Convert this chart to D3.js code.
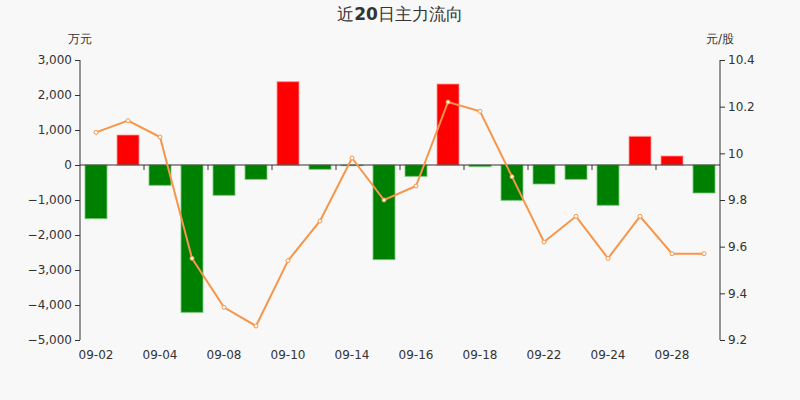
<!DOCTYPE html>
<html>
<head>
<meta charset="utf-8">
<script src="https://cdn.jsdelivr.net/npm/d3@7"></script>
<style>
  body { margin: 0; background: #f8f8f8; }
  text { font-family: "DejaVu Sans", sans-serif; }
</style>
</head>
<body>
<div id="chart-area"></div>
<script>
const dates = ['09-02', '09-03', '09-04', '09-07', '09-08', '09-09', '09-10', '09-11', '09-14', '09-15',
    '09-16', '09-17', '09-18', '09-21', '09-22', '09-23', '09-24', '09-25', '09-28', '09-29'];
const flows = [-1534, 857, -581, -4210, -867, -410, 2381, -124, -20, -2705,
    -324, 2314, -48, -1010, -543, -410, -1152, 819, 257, -800];
const prices = [10.09, 10.14, 10.07, 9.55, 9.34, 9.26, 9.54, 9.71, 9.98, 9.80,
    9.86, 10.22, 10.18, 9.90, 9.62, 9.73, 9.55, 9.73, 9.57, 9.57];
const leftTicks = [-5000, -4000, -3000, -2000, -1000, 0, 1000, 2000, 3000];
const rightTicks = [9.2, 9.4, 9.6, 9.8, 10, 10.2, 10.4];

const margin = {left: 80, right: 80, top: 60, bottom: 60};
const width = 800 - margin.left - margin.right,
    height = 400 - margin.top - margin.bottom;

const svg = d3.select('#chart-area')
    .append('svg')
    .attr('width', 800)
    .attr('height', 400)
    .style('background', '#f8f8f8');

// title: the CJK glyphs render regular, only the digits look bold
const title = svg.append('text')
    .attr('x', 400)
    .attr('y', 20)
    .attr('text-anchor', 'middle')
    .attr('font-size', '17px')
    .attr('fill', '#333');
title.append('tspan').text('近');
title.append('tspan').attr('font-weight', 'bold').text('20');
title.append('tspan').text('日主力流向');

svg.append('text')
    .text('万元')
    .attr('x', 80)
    .attr('y', 43)
    .attr('text-anchor', 'middle')
    .attr('font-size', '12px')
    .attr('fill', '#333');

svg.append('text')
    .text('元/股')
    .attr('x', 720)
    .attr('y', 43)
    .attr('text-anchor', 'middle')
    .attr('font-size', '12px')
    .attr('fill', '#333');

const g = svg.append('g')
    .attr('transform', 'translate(' + margin.left + ', ' + margin.top + ')');

const xScale = d3.scaleBand()
    .domain(dates)
    .range([0, width]);

const yScale = d3.scaleLinear()
    .domain([-5000, 3000])
    .range([height, 0]);

const pScale = d3.scaleLinear()
    .domain([9.2, 10.4])
    .range([height, 0]);

// bars
const barW = 22;
g.selectAll('rect.bar')
    .data(flows)
    .enter()
    .append('rect')
    .attr('class', 'bar')
    .attr('x', (d, i) => xScale(dates[i]) + (xScale.bandwidth() - barW) / 2)
    .attr('y', d => yScale(Math.max(0, d)))
    .attr('width', barW)
    .attr('height', d => Math.abs(yScale(d) - yScale(0)))
    .attr('fill', d => d >= 0 ? '#ff0000' : '#008000')
    .attr('stroke', d => d >= 0 ? 'rgba(255,150,150,0.8)' : 'rgba(120,200,120,0.8)')
    .attr('stroke-width', 1);

// left axis
const yAxisCall = d3.axisLeft(yScale)
    .tickValues(leftTicks)
    .tickSize(5)
    .tickFormat(d3.format(','));
const yAxis = g.append('g').call(yAxisCall);

// right axis
const pAxisCall = d3.axisRight(pScale)
    .tickValues(rightTicks)
    .tickSize(5)
    .tickFormat(d => +d.toFixed(1));
const pAxis = g.append('g')
    .attr('transform', 'translate(' + width + ', 0)')
    .call(pAxisCall);

[yAxis, pAxis].forEach(ax => {
    ax.select('.domain').attr('stroke', '#333').attr('d', 'M0,0V' + height);
    ax.selectAll('.tick line').attr('stroke', '#333');
    ax.selectAll('.tick text')
        .attr('fill', '#333')
        .attr('font-size', '12px')
        .attr('font-family', '"DejaVu Sans", sans-serif');
});
yAxis.selectAll('.tick text').attr('x', -8);
pAxis.selectAll('.tick text').attr('x', 8);

// x axis along zero
const zeroY = yScale(0);
g.append('line')
    .attr('x1', 0).attr('x2', width)
    .attr('y1', zeroY).attr('y2', zeroY)
    .attr('stroke', '#333');

g.selectAll('line.xtick')
    .data(dates.filter((d, i) => i % 2 === 0 && i > 0))
    .enter()
    .append('line')
    .attr('class', 'xtick')
    .attr('x1', d => xScale(d))
    .attr('x2', d => xScale(d))
    .attr('y1', zeroY)
    .attr('y2', zeroY + 5)
    .attr('stroke', '#333');

g.selectAll('text.xlabel')
    .data(dates.filter((d, i) => i % 2 === 0))
    .enter()
    .append('text')
    .attr('class', 'xlabel')
    .attr('x', d => xScale(d) + xScale.bandwidth() / 2)
    .attr('y', height + 19)
    .attr('text-anchor', 'middle')
    .attr('font-size', '12px')
    .attr('fill', '#333')
    .text(d => d);

// price line
const line = d3.line()
    .x((d, i) => xScale(dates[i]) + xScale.bandwidth() / 2)
    .y(d => pScale(d));

g.append('path')
    .datum(prices)
    .attr('d', line)
    .attr('fill', 'none')
    .attr('stroke', '#f7954a')
    .attr('stroke-width', 2);

g.selectAll('circle')
    .data(prices)
    .enter()
    .append('circle')
    .attr('cx', (d, i) => xScale(dates[i]) + xScale.bandwidth() / 2)
    .attr('cy', d => pScale(d))
    .attr('r', 2)
    .attr('fill', '#fff')
    .attr('stroke', '#f7954a')
    .attr('stroke-width', 1);
</script>
</body>
</html>
